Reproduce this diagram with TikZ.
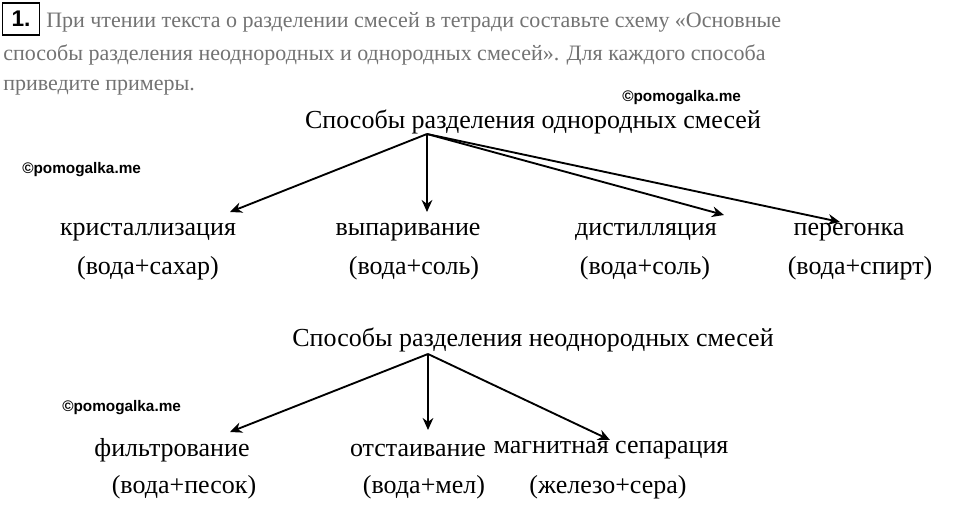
\documentclass[tikz,border=0pt]{standalone}
\usepackage{fontspec}
\usetikzlibrary{arrows.meta}
\setmainfont{Liberation Serif}
\newfontfamily\wm{Liberation Sans}
\begin{document}
\begin{tikzpicture}[x=0.75pt,y=-0.75pt,
  txt/.style={font=\fontsize{19.5}{22}\selectfont,inner sep=0pt},
  hdr/.style={font=\fontsize{16.5}{20}\selectfont,text=black!55,inner sep=0pt,anchor=west},
  wmark/.style={font=\wm\bfseries\fontsize{11.5}{13}\selectfont,inner sep=0pt,anchor=west},
  arr/.style={-{Stealth[length=9pt,width=8pt]},line width=1.4pt}]
\useasboundingbox (0,0) rectangle (960,504);
\fill[white] (0,0) rectangle (960,504);
\node[draw,line width=1.4pt,minimum width=37*0.75pt,minimum height=32*0.75pt,inner sep=0pt,font=\wm\bfseries\fontsize{17}{20}\selectfont] (num) at (21,19) {1.};
\node[hdr] (h1) at (46,22) {При чтении текста о разделении смесей в тетради составьте схему «Основные};
\node[hdr] (h2) at (3,55) {способы разделения неоднородных и однородных смесей». Для каждого способа};
\node[hdr] (h3) at (3,88) {приведите примеры.};
\node[wmark] (w1) at (622,98) {©pomogalka.me};
\node[wmark] (w2) at (22,170) {©pomogalka.me};
\node[wmark] (w3) at (62,408) {©pomogalka.me};
\node[txt] (t1) at (533,122) {Способы разделения однородных смесей};
\coordinate (s1) at (427,134);
\node[txt] (a1) at (148,232) {кристаллизация};
\node[txt] (a1e) at (148,268) {(вода+сахар)};
\node[txt] (a2) at (408,232) {выпаривание};
\node[txt] (a2e) at (414,268) {(вода+соль)};
\node[txt] (a3) at (646,232) {дистилляция};
\node[txt] (a3e) at (645,268) {(вода+соль)};
\node[txt] (a4) at (849,232) {перегонка};
\node[txt] (a4e) at (860,268) {(вода+спирт)};
\coordinate (e1) at (230,212); \coordinate (e2) at (427,212);
\coordinate (e3) at (724,215); \coordinate (e4) at (840,222);
\draw[arr] (s1) -- (e1); \draw[arr] (s1) -- (e2);
\draw[arr] (s1) -- (e3); \draw[arr] (s1) -- (e4);
\node[txt] (t2) at (533,340) {Способы разделения неоднородных смесей};
\coordinate (s2) at (428,354);
\node[txt] (b1) at (172,450) {фильтрование};
\node[txt] (b1e) at (184,487) {(вода+песок)};
\node[txt] (b2) at (418,450) {отстаивание};
\node[txt] (b2e) at (424,487) {(вода+мел)};
\node[txt] (b3) at (611,450) {магнитная сепарация};
\node[txt] (b3e) at (608,487) {(железо+сера)};
\coordinate (f1) at (230,432); \coordinate (f2) at (428,430); \coordinate (f3) at (610,440);
\draw[arr] (s2) -- (f1); \draw[arr] (s2) -- (f2); \draw[arr] (s2) -- (f3);
\end{tikzpicture}
\end{document}
